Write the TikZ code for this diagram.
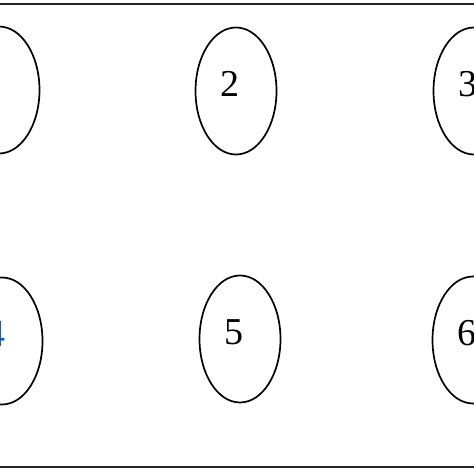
\documentclass[tikz,border=0pt]{standalone}
\usepackage{fontspec}
\setmainfont{Liberation Serif}
\usetikzlibrary{shapes}
\definecolor{numblue}{RGB}{30,90,170}

\begin{document}
\begin{tikzpicture}[x=1pt,y=1pt,
	cell/.style={ellipse,draw,line width=1.7pt,minimum width=81pt,minimum height=127pt,inner sep=0pt},
	num/.style={font=\fontsize{38}{38}\selectfont,xshift=-6pt,yshift=7pt}]
\useasboundingbox (0,0) rectangle (474,474);
\clip (0,0) rectangle (474,474);
\draw[line width=2.6pt,black!85] (-10,7) rectangle (484,470);
\node[cell,label={[num]center:1}](n1) at (-1,384){};
\node[cell,label={[num]center:2}](n2) at (236,383){};
\node[cell,label={[num]center:3}](n3) at (474,383){};
\node[cell,label={[num,numblue]center:4}](n4) at (2,133){};
\node[cell,label={[num]center:5}](n5) at (240,135){};
\node[cell,label={[num]center:6}](n6) at (473,134){};
\end{tikzpicture}
\end{document}
